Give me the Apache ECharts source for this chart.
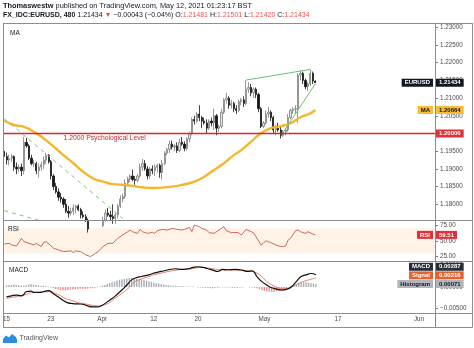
<!DOCTYPE html>
<html><head><meta charset="utf-8">
<script src="https://cdn.jsdelivr.net/npm/echarts@6/dist/echarts.min.js"></script>
<style>html,body{margin:0;padding:0;background:#fff}#c{width:474px;height:348px}</style>
</head><body><div id="c"></div><script>
// ---------- DATA ----------
const startDate = '2021-03-15';
const sessions = ['00', '08', '16'];
const totalBars = 175;
const timeTicks = [['2021-03-15','15'],['2021-03-23','23'],['2021-04-01','Apr'],['2021-04-12','12'],['2021-04-20','20'],['2021-05-03','May'],['2021-05-17','17'],['2021-06-01','Jun']];
const priceTicks = [1.18,1.185,1.19,1.195,1.2,1.205,1.21,1.215,1.22,1.225,1.23];
const rsiTicks = [25,50,75];
const macdTicks = [-0.005,0,0.005];

// [open, high, low, close] per 8h bar
const ohlc = [
[1.1950,1.1955,1.1925,1.1935],[1.1935,1.1946,1.1912,1.1925],[1.1925,1.1940,1.1910,1.1930],
[1.1930,1.1942,1.1920,1.1935],[1.1935,1.1938,1.1895,1.1905],[1.1905,1.1918,1.1885,1.1900],
[1.1900,1.1912,1.1890,1.1905],[1.1905,1.1915,1.1880,1.1895],[1.1895,1.1990,1.1885,1.1975],
[1.1975,1.1988,1.1960,1.1965],[1.1965,1.1970,1.1925,1.1930],[1.1930,1.1940,1.1910,1.1915],
[1.1915,1.1925,1.1905,1.1915],[1.1915,1.1920,1.1885,1.1895],[1.1895,1.1915,1.1875,1.1905],
[1.1905,1.1920,1.1895,1.1912],[1.1912,1.1935,1.1900,1.1925],[1.1925,1.1945,1.1915,1.1938],
[1.1938,1.1942,1.1915,1.1920],[1.1920,1.1925,1.1870,1.1880],[1.1880,1.1885,1.1840,1.1850],
[1.1850,1.1860,1.1830,1.1835],[1.1835,1.1845,1.1810,1.1820],[1.1820,1.1832,1.1805,1.1815],
[1.1815,1.1820,1.1790,1.1800],[1.1800,1.1815,1.1775,1.1780],[1.1780,1.1795,1.1762,1.1775],
[1.1775,1.1790,1.1768,1.1780],[1.1780,1.1800,1.1770,1.1790],[1.1790,1.1798,1.1775,1.1795],
[1.1795,1.1800,1.1780,1.1785],[1.1785,1.1790,1.1760,1.1770],[1.1770,1.1780,1.1760,1.1765],
[1.1765,1.1772,1.1750,1.1755],[1.1755,1.1760,1.1720,1.1730],[1.1730,1.1740,1.1705,1.1720],
[1.1720,1.1730,1.1710,1.1715],[1.1715,1.1735,1.1704,1.1725],[1.1725,1.1745,1.1715,1.1730],
[1.1730,1.1745,1.1725,1.1740],[1.1740,1.1765,1.1735,1.1755],[1.1755,1.1785,1.1750,1.1775],
[1.1775,1.1790,1.1765,1.1770],[1.1770,1.1782,1.1755,1.1765],[1.1765,1.1800,1.1745,1.1760],
[1.1760,1.1775,1.1745,1.1770],[1.1770,1.1800,1.1760,1.1795],[1.1795,1.1825,1.1790,1.1815],
[1.1815,1.1830,1.1805,1.1822],[1.1822,1.1870,1.1815,1.1860],[1.1860,1.1878,1.1850,1.1872],
[1.1872,1.1885,1.1862,1.1880],[1.1880,1.1898,1.1865,1.1870],[1.1870,1.1880,1.1855,1.1868],
[1.1868,1.1885,1.1862,1.1880],[1.1880,1.1915,1.1875,1.1905],[1.1905,1.1928,1.1895,1.1915],
[1.1915,1.1925,1.1895,1.1900],[1.1900,1.1908,1.1870,1.1880],[1.1880,1.1905,1.1872,1.1900],
[1.1900,1.1910,1.1885,1.1895],[1.1895,1.1912,1.1880,1.1905],[1.1905,1.1915,1.1890,1.1910],
[1.1910,1.1915,1.1875,1.1890],[1.1890,1.1925,1.1870,1.1915],[1.1915,1.1950,1.1910,1.1945],
[1.1945,1.1960,1.1938,1.1955],[1.1955,1.1980,1.1945,1.1970],[1.1970,1.1980,1.1955,1.1962],
[1.1962,1.1970,1.1950,1.1965],[1.1965,1.1975,1.1945,1.1952],[1.1952,1.1985,1.1948,1.1975],
[1.1975,1.1990,1.1965,1.1970],[1.1970,1.1978,1.1950,1.1958],[1.1958,1.1990,1.1952,1.1985],
[1.1985,1.2005,1.1975,1.2000],[1.2000,1.2045,1.1995,1.2040],[1.2040,1.2050,1.2025,1.2035],
[1.2035,1.2060,1.2030,1.2055],[1.2055,1.2080,1.2035,1.2045],[1.2045,1.2050,1.2015,1.2035],
[1.2035,1.2045,1.2025,1.2030],[1.2030,1.2040,1.2000,1.2015],[1.2015,1.2040,1.2010,1.2035],
[1.2035,1.2045,1.2020,1.2030],[1.2030,1.2070,1.2010,1.2050],[1.2050,1.2055,1.1995,1.2015],
[1.2015,1.2025,1.2005,1.2020],[1.2020,1.2070,1.2015,1.2060],[1.2060,1.2100,1.2055,1.2095],
[1.2095,1.2115,1.2085,1.2100],[1.2100,1.2105,1.2070,1.2080],[1.2080,1.2095,1.2070,1.2085],
[1.2085,1.2090,1.2060,1.2070],[1.2070,1.2080,1.2055,1.2065],[1.2065,1.2095,1.2060,1.2090],
[1.2090,1.2100,1.2080,1.2095],[1.2095,1.2105,1.2075,1.2085],[1.2085,1.2150,1.2080,1.2125],
[1.2125,1.2145,1.2115,1.2130],[1.2130,1.2140,1.2105,1.2115],[1.2115,1.2130,1.2100,1.2125],
[1.2125,1.2130,1.2100,1.2110],[1.2110,1.2115,1.2060,1.2070],[1.2070,1.2075,1.2015,1.2020],
[1.2020,1.2035,1.2015,1.2030],[1.2030,1.2065,1.2025,1.2055],[1.2055,1.2075,1.2045,1.2060],
[1.2060,1.2065,1.2035,1.2045],[1.2045,1.2050,1.2000,1.2010],[1.2010,1.2025,1.1995,1.2015],
[1.2015,1.2030,1.2005,1.2010],[1.2010,1.2020,1.1986,1.1995],[1.1995,1.2010,1.1990,1.2005],
[1.2005,1.2015,1.1995,1.2010],[1.2010,1.2055,1.2005,1.2045],[1.2045,1.2070,1.2040,1.2065],
[1.2065,1.2075,1.2055,1.2068],[1.2068,1.2080,1.2055,1.2070],[1.2070,1.2170,1.2030,1.2165],
[1.2165,1.2178,1.2150,1.2170],[1.2170,1.2175,1.2140,1.2150],[1.2150,1.2155,1.2125,1.2132],
[1.2132,1.2145,1.2120,1.2140],[1.2140,1.2181,1.2135,1.2170],[1.2170,1.2175,1.2140,1.2148],
[1.21481,1.21501,1.21420,1.21434]
];

// [barIndex, value]
const maPoints = [[0,1.2036],[4,1.2024],[8,1.2019],[12,1.2005],[16,1.1986],[20,1.1963],[24,1.1939],[28,1.1916],[32,1.1892],[36,1.1873],[40,1.1864],[44,1.1857],[48,1.1855],[52,1.1852],[56,1.1848],[60,1.1846],[64,1.1847],[68,1.1850],[72,1.1855],[77,1.1864],[81,1.1878],[85,1.1897],[89,1.1916],[93,1.1939],[96,1.1953],[100,1.1977],[104,1.2001],[108,1.2015],[112,1.2021],[116,1.2029],[120,1.2046],[124,1.2057],[126,1.20664]];

const rsiPoints = [[0,45.0],[2,46.1],[3,43.5],[5,41.9],[7,54.0],[8,48.7],[10,46.1],[12,43.5],[13,46.1],[15,40.8],[16,47.6],[17,48.7],[19,41.9],[20,38.2],[22,35.6],[24,33.0],[27,34.0],[28,31.4],[29,34.0],[31,33.0],[32,30.3],[33,27.7],[35,25.0],[36,27.7],[37,30.3],[38,33.0],[40,40.8],[42,46.1],[44,46.1],[46,54.0],[48,59.2],[50,64.5],[51,67.1],[52,64.5],[54,61.9],[55,68.2],[56,64.5],[58,61.9],[60,63.4],[61,61.9],[62,66.0],[64,68.2],[66,67.1],[68,69.7],[70,68.2],[72,67.1],[73,68.2],[75,71.3],[76,64.5],[77,75.0],[79,72.4],[80,69.7],[82,67.1],[83,62.9],[85,61.9],[88,69.7],[89,72.4],[90,66.0],[92,62.9],[93,63.4],[95,62.9],[96,59.2],[98,68.2],[100,64.5],[101,62.9],[102,56.6],[104,43.5],[105,46.1],[106,50.2],[108,47.1],[110,43.5],[112,40.8],[114,41.9],[115,51.3],[116,54.0],[118,66.0],[119,67.1],[120,64.5],[122,61.9],[123,64.5],[125,60.8],[126,59.51]];

const macdPoints = [[0,-0.00230],[2,-0.00206],[4,-0.00190],[6,-0.00206],[7,-0.00175],[8,-0.00111],[10,-0.00095],[11,-0.00127],[13,-0.00127],[15,-0.00111],[17,-0.00087],[19,-0.00151],[21,-0.00230],[23,-0.00309],[25,-0.00373],[27,-0.00389],[29,-0.00397],[31,-0.00405],[33,-0.00444],[35,-0.00468],[37,-0.00468],[39,-0.00428],[41,-0.00349],[43,-0.00270],[45,-0.00175],[47,-0.00071],[49,0.00048],[51,0.00167],[53,0.00222],[55,0.00246],[58,0.00286],[60,0.00325],[63,0.00365],[66,0.00405],[69,0.00428],[71,0.00412],[74,0.00428],[76,0.00460],[78,0.00476],[80,0.00460],[82,0.00428],[84,0.00397],[86,0.00365],[88,0.00412],[90,0.00405],[93,0.00412],[96,0.00397],[98,0.00365],[100,0.00381],[102,0.00246],[104,0.00127],[106,0.00048],[108,-0.00016],[110,-0.00048],[112,-0.00071],[114,-0.00056],[116,0.00008],[118,0.00127],[120,0.00246],[122,0.00286],[124,0.00317],[126,0.00287]];

const signalPoints = [[0,-0.00270],[2,-0.00246],[5,-0.00214],[8,-0.00175],[10,-0.00135],[13,-0.00127],[16,-0.00111],[18,-0.00111],[20,-0.00151],[22,-0.00206],[24,-0.00270],[27,-0.00325],[29,-0.00365],[32,-0.00397],[35,-0.00428],[38,-0.00444],[40,-0.00412],[42,-0.00365],[44,-0.00270],[47,-0.00151],[50,-0.00008],[52,0.00111],[55,0.00190],[58,0.00246],[60,0.00286],[63,0.00325],[66,0.00365],[69,0.00397],[71,0.00412],[74,0.00420],[77,0.00444],[79,0.00460],[82,0.00444],[85,0.00420],[88,0.00397],[90,0.00397],[93,0.00397],[96,0.00389],[98,0.00381],[101,0.00349],[104,0.00246],[106,0.00127],[109,0.00024],[112,-0.00032],[115,-0.00032],[117,0.00032],[120,0.00111],[123,0.00167],[126,0.00216]];

const histValues = [
0.0004,0.0005,0.0005,0.0006,0.0005,0.0004,0.0003,0.0003,0.0004,0.0006,0.0007,0.0006,0.0005,0.0004,0.0003,0.0003,0.0002,0.0001,
-0.0001,-0.0003,-0.0005,-0.0006,-0.0007,-0.0008,-0.0008,-0.0007,-0.0006,-0.0006,-0.0005,-0.0005,-0.0004,-0.0004,-0.0004,-0.0004,-0.0003,-0.0003,-0.0002,-0.0001,
0.0001,0.0003,0.0005,0.0007,0.0009,0.0011,0.0013,0.0015,0.0017,0.0018,0.0019,0.0020,0.0021,0.0021,0.0021,0.0020,0.0019,0.0018,0.0017,0.0015,0.0013,0.0012,0.0010,0.0009,0.0008,0.0007,0.0006,0.0005,0.0004,0.0003,
0.0003,0.0003,0.0002,0.0002,0.0002,0.0001,0.0001,0.0001,
0.0001,0,-0.0001,-0.0001,-0.0002,-0.0002,-0.0002,-0.0003,-0.0003,-0.0002,-0.0002,-0.0001,-0.0001,-0.0001,-0.0001,-0.0001,-0.0002,-0.0002,-0.0002,-0.0001,-0.0001,0,0,-0.0001,-0.0001,-0.0002,
-0.0003,-0.0005,-0.0007,-0.0009,-0.0010,-0.0011,-0.0012,-0.0011,-0.0010,-0.0009,-0.0007,-0.0005,-0.0003,-0.0001,
0.0002,0.0004,0.0006,0.0008,0.0010,0.0011,0.0011,0.0010,0.0009,0.0008,0.00071
];

const psychLevel = 1.2;
const psychLabel = '1.2000 Psychological Level';
const psychLabelAt = 24;
const trendUpper = [[98,1.2151],[124,1.2181]];
const trendLower = [[113,1.2003],[126,1.2140]];
const channelA = [[0,1.2042],[48,1.1760]];
const channelB = [[0,1.1782],[14,1.1755]];

const lastClose = 1.21434, lastMA = 1.20664, lastRSI = 59.51;
const lastMACD = 0.00287, lastSignal = 0.00216, lastHist = 0.00071;

// ---------- BUILD ----------
const categories = [];
(function(){
  const d = new Date(startDate + 'T00:00:00Z');
  while (categories.length < totalBars) {
    const wd = d.getUTCDay();
    if (wd !== 0 && wd !== 6) sessions.forEach(s => categories.push(d.toISOString().slice(0,10) + ' ' + s));
    d.setUTCDate(d.getUTCDate() + 1);
  }
  categories.length = totalBars;
})();
const tickMap = {};
timeTicks.forEach(t => tickMap[t[0] + ' 00'] = t[1]);

const candleData = ohlc.map(r => [r[0], r[3], r[2], r[1]]);
const histData = histValues.map(v => ({value: v, itemStyle: {color: v >= 0 ? '#a9adb5' : '#ef8a8a'}}));

const FONT = '"Liberation Sans", Arial, sans-serif';
const axisLab = {fontSize: 6.3, color: '#4a4a4a', fontFamily: FONT};
const fmtP = v => (v < 0 ? '\u2212' : '') + Math.abs(v).toFixed(5);

const chart = echarts.init(document.getElementById('c'), null, {renderer: 'canvas'});
const gridBase = {left: 3, right: 39};
const option = {
  animation: false,
  textStyle: {fontFamily: FONT},
  grid: [
    Object.assign({top: 23, height: 197}, gridBase),
    Object.assign({top: 221, height: 40}, gridBase),
    Object.assign({top: 262, height: 51}, gridBase)
  ],
  xAxis: [0,1,2].map(i => ({
    type: 'category', gridIndex: i, data: categories, boundaryGap: true,
    axisLine: {show: false}, axisTick: {show: false}, splitLine: {show: false},
    axisLabel: i < 2 ? {show: false} : Object.assign({
      interval: (idx, val) => tickMap[val] !== undefined,
      formatter: val => tickMap[val] || '', margin: 3, hideOverlap: false
    }, axisLab)
  })),
  yAxis: [
    {type: 'value', gridIndex: 0, position: 'right', min: 1.17556, max: 1.23122, scale: true,
     axisLine: {show: false}, splitLine: {show: false},
     axisTick: {show: true, length: 3, customValues: priceTicks, lineStyle: {color: '#787b86'}},
     axisLabel: Object.assign({customValues: priceTicks, formatter: fmtP, margin: 5}, axisLab)},
    {type: 'value', gridIndex: 1, position: 'right', min: 18, max: 81.5,
     axisLine: {show: false}, splitLine: {show: false},
     axisTick: {show: true, length: 3, customValues: rsiTicks, lineStyle: {color: '#787b86'}},
     axisLabel: Object.assign({customValues: rsiTicks, formatter: v => v.toFixed(2), margin: 5}, axisLab)},
    {type: 'value', gridIndex: 2, position: 'right', min: -0.0061, max: 0.00587,
     axisLine: {show: false}, splitLine: {show: false},
     axisTick: {show: true, length: 3, customValues: macdTicks, lineStyle: {color: '#787b86'}},
     axisLabel: Object.assign({customValues: macdTicks, formatter: fmtP, margin: 5}, axisLab)}
  ],
  series: [
    {type: 'candlestick', xAxisIndex: 0, yAxisIndex: 0, data: candleData, clip: true, barWidth: '72%',
     itemStyle: {color: '#e4e4e4', borderColor: '#7d7d7d', color0: '#151515', borderColor0: '#151515', borderWidth: 0.8},
     markLine: {silent: true, symbol: 'none', label: {show: false},
       lineStyle: {color: '#d9262e', width: 1.4, type: 'solid'}, data: [{yAxis: psychLevel}]}},
    {type: 'line', xAxisIndex: 0, yAxisIndex: 0, data: maPoints, smooth: true, showSymbol: false,
     lineStyle: {color: '#f7b52c', width: 2.4}, z: 3},
    {type: 'line', xAxisIndex: 0, yAxisIndex: 0, data: trendUpper, showSymbol: false, lineStyle: {color: '#6cbf6f', width: 1}, z: 4},
    {type: 'line', xAxisIndex: 0, yAxisIndex: 0, data: trendLower, showSymbol: false, lineStyle: {color: '#6cbf6f', width: 1}, z: 4},
    {type: 'line', xAxisIndex: 0, yAxisIndex: 0, data: channelA, showSymbol: false, lineStyle: {color: '#7cc47f', width: 1, type: [4, 4]}, z: 4},
    {type: 'line', xAxisIndex: 0, yAxisIndex: 0, data: channelB, showSymbol: false, lineStyle: {color: '#7cc47f', width: 1, type: [4, 4]}, z: 4},
    {type: 'line', xAxisIndex: 1, yAxisIndex: 1, data: rsiPoints, showSymbol: false,
     lineStyle: {color: '#c9574a', width: 0.9},
     markArea: {silent: true, itemStyle: {color: 'rgba(255,160,60,0.12)'}, data: [[{yAxis: 30}, {yAxis: 70}]]}},
    {type: 'bar', xAxisIndex: 2, yAxisIndex: 2, data: histData, barWidth: 1.4},
    {type: 'line', xAxisIndex: 2, yAxisIndex: 2, data: signalPoints, showSymbol: false, smooth: true, lineStyle: {color: '#e0735a', width: 0.9}, z: 4},
    {type: 'line', xAxisIndex: 2, yAxisIndex: 2, data: macdPoints, showSymbol: false, smooth: true, lineStyle: {color: '#111111', width: 1.2}, z: 5}
  ]
};
chart.setOption(option);

// ---------- ANNOTATIONS ----------
const py = (axis, v) => chart.convertToPixel({yAxisIndex: axis}, v);
const px = idx => chart.convertToPixel({xAxisIndex: 0}, categories[idx]);
const frameC = '#8a8d96';
const L = (x1, y1, x2, y2) => ({type: 'line', silent: true, z: 50, shape: {x1, y1, x2, y2}, style: {stroke: frameC, lineWidth: 1}});
function box(x, y, text, bg, fg, align) {
  return {type: 'text', x, y, z: 100, silent: true,
    style: {text, fill: fg, backgroundColor: bg, padding: [1, 3, 1, 3], lineHeight: 6,
      fontSize: 6, fontWeight: 'bold', fontFamily: FONT, align, verticalAlign: 'middle'}};
}
function plain(x, y, text, size, color, align, va) {
  return {type: 'text', x, y, z: 60, silent: true,
    style: {text, fill: color, fontSize: size, fontFamily: FONT, align: align || 'left', verticalAlign: va || 'middle'}};
}
const AX = 435, VX = 436;
const yHist = py(2, lastHist);
const g = [
  L(3, 23.5, 472.5, 23.5), L(3.5, 23, 3.5, 327.5), L(472.5, 23, 472.5, 327.5), L(3, 327.5, 472.5, 327.5),
  L(435.5, 23, 435.5, 327.5), L(3, 220.5, 472.5, 220.5), L(3, 261.5, 472.5, 261.5), L(3, 313.5, 472.5, 313.5),
  {type: 'text', x: 3, y: 6, z: 60, style: {text: '{b|Thomaswestw} published on TradingView.com, May 12, 2021 01:23:17 BST',
    fill: '#131722', fontSize: 7.4, fontFamily: FONT, verticalAlign: 'middle',
    rich: {b: {fontWeight: 'bold', fontSize: 7.4, fill: '#131722', fontFamily: FONT}}}},
  {type: 'text', x: 3, y: 15.5, z: 60, style: {text: '{b|FX_IDC:EURUSD, 480} 1.21434 {r|\u25BC} \u22120.00043 (\u22120.04%) O:{r|1.21481} H:{r|1.21501} L:{r|1.21420} C:{r|1.21434}',
    fill: '#131722', fontSize: 7, fontFamily: FONT, verticalAlign: 'middle',
    rich: {b: {fontWeight: 'bold', fontSize: 7, fill: '#131722', fontFamily: FONT}, r: {fill: '#ef5350', fontSize: 7, fontFamily: FONT}}}},
  plain(10, 33, 'MA', 6.5, '#131722'),
  plain(8, 229.5, 'RSI', 6.5, '#131722'),
  plain(9, 270.5, 'MACD', 6.5, '#131722'),
  plain(px(psychLabelAt), py(0, psychLevel) + 1.5, psychLabel, 6.8, '#c62828', 'left', 'top'),
  box(AX - 2, py(0, lastClose), 'EURUSD', '#131722', '#ffffff', 'right'),
  box(VX, py(0, lastClose), '1.21434', '#131722', '#ffffff', 'left'),
  box(AX - 2, py(0, lastMA), 'MA', '#f8bd35', '#131722', 'right'),
  box(VX, py(0, lastMA), '1.20664', '#f8bd35', '#131722', 'left'),
  box(VX, py(0, psychLevel), '1.20000', '#e0303a', '#ffffff', 'left'),
  box(AX - 2, py(1, lastRSI), 'RSI', '#e0303a', '#ffffff', 'right'),
  box(VX, py(1, lastRSI), '59.51', '#e0303a', '#ffffff', 'left'),
  box(AX - 2, yHist - 17.2, 'MACD', '#2a2e39', '#ffffff', 'right'),
  box(VX, yHist - 17.2, '0.00287', '#2a2e39', '#ffffff', 'left'),
  box(AX - 2, yHist - 8.6, 'Signal', '#e4622e', '#ffffff', 'right'),
  box(VX, yHist - 8.6, '0.00216', '#e4622e', '#ffffff', 'left'),
  box(AX - 2, yHist, 'Histogram', '#b2b5be', '#131722', 'right'),
  box(VX, yHist, '0.00071', '#b2b5be', '#131722', 'left'),
  {type: 'polygon', z: 60, silent: true, shape: {points: [[3,343],[3,339],[6,335.5],[9,337.5],[12,334],[16,337],[17,340],[17,343]]}, style: {fill: '#2b8de0'}},
  plain(19.5, 338.5, 'TradingView', 7, '#555555')
];
chart.setOption({graphic: g});
</script></body></html>
